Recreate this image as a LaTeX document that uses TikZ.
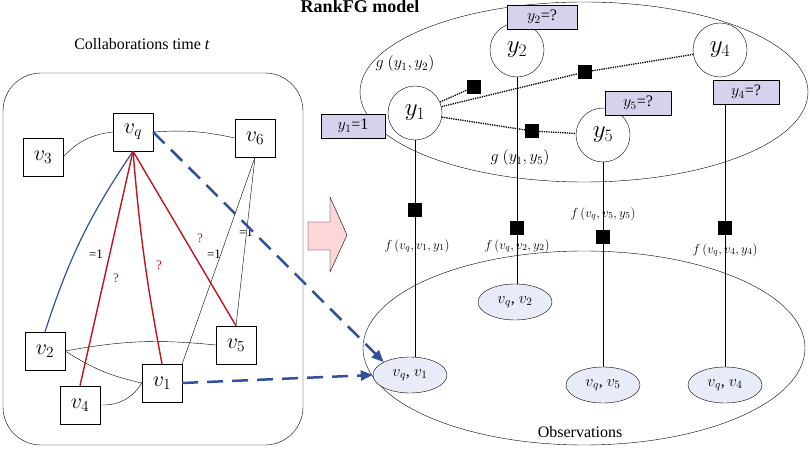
\RequirePackage{fix-cm}
\documentclass[tikz,border=0pt]{standalone}
\usepackage{fontspec}
\setmainfont{Liberation Serif}
\usetikzlibrary{shapes.geometric,arrows.meta}
\definecolor{lav}{RGB}{214,210,238}
\definecolor{obsf}{RGB}{232,236,248}
\definecolor{dblue}{RGB}{50,80,160}
\definecolor{dred}{RGB}{190,20,30}
\definecolor{pinkf}{RGB}{252,214,216}
\begin{document}
\begin{tikzpicture}[x=1pt,y=-1pt,
 vb/.style={draw,fill=white,minimum width=40,minimum height=38,inner sep=0,font=\fontsize{22}{22}\selectfont},
 yc/.style={draw,circle,fill=white,minimum size=54,inner sep=0,font=\fontsize{25}{25}\selectfont},
 lb/.style={draw,fill=lav,inner sep=2,minimum height=24,font=\fontsize{16}{16}\selectfont},
 fs/.style={fill=black,minimum size=14,inner sep=0},
 ob/.style={draw,ellipse,fill=obsf,minimum width=74,minimum height=36,inner sep=0,font=\fontsize{16}{16}\selectfont},
 el/.style={font=\fontsize{13}{13}\selectfont},
 fl/.style={font=\fontsize{13}{13}\selectfont},
 dot/.style={densely dotted,line width=1.3pt}]
\useasboundingbox (0,0) rectangle (811,457);
\clip (0,0) rectangle (811,457);
% left
\node[font=\fontsize{16}{16}\selectfont] (t1) at (142,44) {Collaborations time \textit{t}};
\draw[rounded corners=38] (3,73) rectangle (303,445);
\node[vb] (vq) at (133,132) {$v_q$};
\node[vb] (v6) at (255,138) {$v_6$};
\node[vb] (v3) at (43,157) {$v_3$};
\node[vb] (v2) at (45,351) {$v_2$};
\node[vb] (v5) at (236,345) {$v_5$};
\node[vb] (v1) at (162,383) {$v_1$};
\node[vb] (v4) at (80,405) {$v_4$};
\draw (vq.west) to[bend right=20] (v3.east);
\draw (vq.east) to[bend left=8] (v6.west);
\draw (v6.south) -- (v1.north east);
\draw (v6.south) -- (v5.north);
\draw (v2.east) to[bend left=8] (v5.west);
\draw (v2.east) to[bend right=10] (v1.west);
\draw (v4.east) to[bend right=30] (v1.west);
\draw[dblue,line width=1.2pt] (vq.south) to[bend right=8] (v2.north);
\draw[dred,line width=1.4pt] (vq.south) -- (v4.north);
\draw[dred,line width=1.4pt] (vq.south) to[bend right=3] (v1.north);
\draw[dred,line width=1.4pt] (vq.south) -- (v5.north);
\node[el] (e1) at (96,254) {=1};
\node[el,dred] (q1) at (116,278) {?};
\node[el,dred] (q2) at (159,265) {?};
\node[el,dred] (q3) at (200,238) {?};
\node[el] (e2) at (214,254) {=1};
\node[el] (e3) at (246,232) {=1};
% pink arrow
\draw[fill=pinkf] (308,222) -- (330,222) -- (330,197) -- (347,235) -- (330,272) -- (330,250) -- (308,250) -- cycle;
% top ellipse
\draw (584,92) ellipse (224 and 90);
\node[fs] (s1) at (474,87) {};
\node[fs] (s2) at (585,72) {};
\node[fs] (s3) at (532,131) {};
\node[yc] (y1) at (415,113) {$y_1$};
\node[yc] (y2) at (517,50) {$y_2$};
\node[yc] (y4) at (720,50) {$y_4$};
\node[yc] (y5) at (603,135) {$y_5$};
\draw[dot] (y1) -- (s1);
\draw[dot] (y1) -- (s2) -- (y4);
\draw[dot] (y1) -- (s3) -- (y5);
\node[lb,minimum width=64] (l1) at (353,126) {$y_1$=1};
\node[lb,minimum width=70] (l2) at (542,17) {$y_2$=?};
\node[lb,minimum width=66] (l5) at (638,103) {$y_5$=?};
\node[lb,minimum width=66] (l4) at (746,92) {$y_4$=?};
\node[font=\fontsize{16}{16}\selectfont] (g1) at (405,64) {$g\ (y_1,y_2)$};
\node[font=\fontsize{16}{16}\selectfont] (g2) at (520,158) {$g\ (y_1,y_5)$};
% bottom ellipse
\draw (584,348) ellipse (221 and 97);
\node[font=\fontsize{16}{16}\selectfont] (obs) at (580,432) {Observations};
\node[ob] (o1) at (410,375) {$v_q$, $v_1$};
\node[ob] (o2) at (515,302) {$v_q$, $v_2$};
\node[ob] (o5) at (603,385) {$v_q$, $v_5$};
\node[ob] (o4) at (725,385) {$v_q$, $v_4$};
\node[fs] (f1) at (415,210) {};
\node[fs] (f2) at (517,228) {};
\node[fs] (f5) at (603,237) {};
\node[fs] (f4) at (725,228) {};
\draw (y1.south) -- (f1) -- (f1 |- o1.north);
\draw (y2.south) -- (f2) -- (o2.north -| f2);
\draw (y5.south) -- (f5) -- (o5.north);
\draw (l4.south -| f4) -- (f4) -- (o4.north);
\node[fl] (t1l) at (417,246) {$f\,(v_q, v_1, y_1)$};
\node[fl] (t2l) at (517,246) {$f\,(v_q, v_2, y_2)$};
\node[fl] (t5l) at (603,214) {$f\,(v_q, v_5, y_5)$};
\node[fl] (t4l) at (725,250) {$f\,(v_q, v_4, y_4)$};
% blue dashed arrows
\draw[dblue,line width=2.5pt,dash pattern=on 16pt off 9pt,-{Triangle[length=12pt,width=10pt]}] (vq.east) -- (o1.north west);
\draw[dblue,line width=2.5pt,dash pattern=on 16pt off 9pt,-{Triangle[length=12pt,width=10pt]}] (v1.east) -- (o1.west);
\node[font=\bfseries\fontsize{18}{18}\selectfont] (tt) at (360,6) {RankFG model};
\end{tikzpicture}
\end{document}
